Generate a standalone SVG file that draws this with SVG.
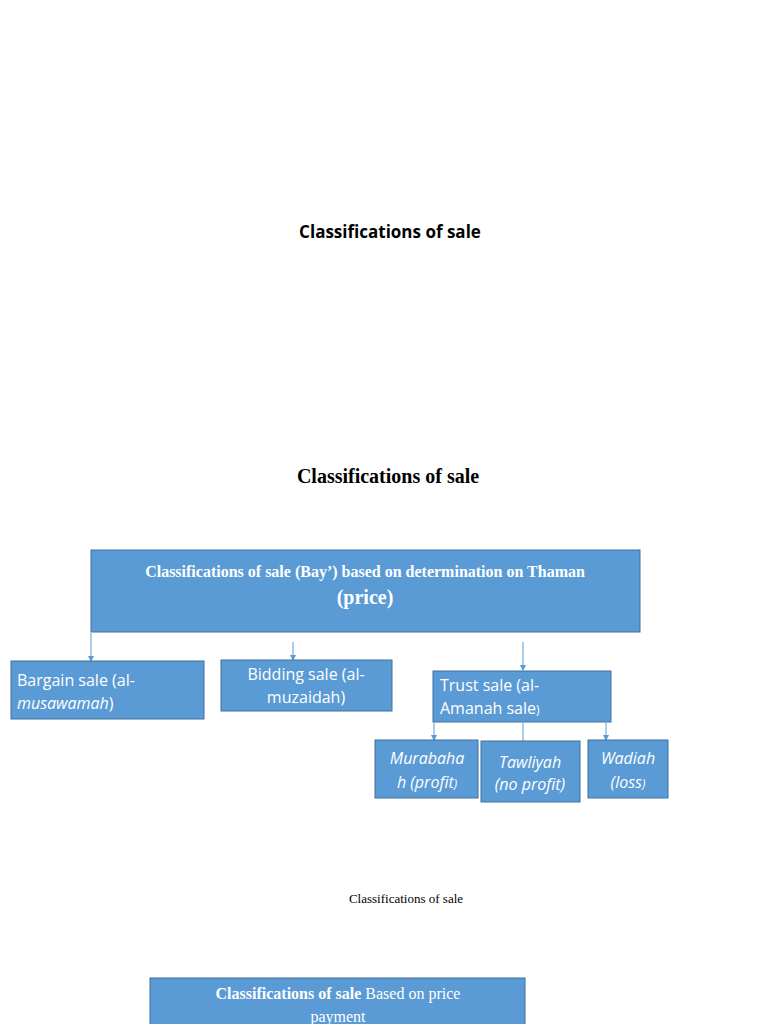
<svg xmlns="http://www.w3.org/2000/svg" width="768" height="1024" viewBox="0 0 768 1024">
<defs>
<style>
.box{fill:#5b9bd5;stroke:#41719c;stroke-width:1}
.t{font-family:"Open Sans","Liberation Sans",sans-serif;font-size:16px;fill:#fff;text-anchor:middle}
.tl{font-family:"Open Sans","Liberation Sans",sans-serif;font-size:16px;fill:#fff}
.s{font-family:"Liberation Serif",serif;font-weight:bold;fill:#fff;text-anchor:middle}
.c{stroke:#5b9bd5;stroke-width:1;fill:none;marker-end:url(#a)}
</style>
<marker id="a" markerWidth="6" markerHeight="6" refX="5" refY="3" orient="auto" markerUnits="userSpaceOnUse"><path d="M0,0L6,3L0,6z" fill="#5b9bd5"/></marker>
</defs>
<rect width="768" height="1024" fill="#fff"/>
<text x="390" y="238" font-family="'Open Sans','Liberation Sans',sans-serif" font-weight="bold" font-size="17" text-anchor="middle" fill="#000">Classifications of sale</text>
<text x="388" y="483" font-family="'Liberation Serif',serif" font-weight="bold" font-size="20" text-anchor="middle" fill="#000">Classifications of sale</text>
<text x="406" y="903" font-family="'Liberation Serif',serif" font-size="13" text-anchor="middle" fill="#000">Classifications of sale</text>
<g id="connectors">
<line class="c" x1="91" y1="633" x2="91" y2="661"/>
<line class="c" x1="293" y1="642" x2="293" y2="660"/>
<line class="c" x1="523" y1="642" x2="523" y2="670"/>
<line class="c" x1="434" y1="723" x2="434" y2="740"/>
<line x1="523" y1="723" x2="523" y2="741" stroke="#5b9bd5"/>
<line class="c" x1="606" y1="723" x2="606" y2="740"/>
</g>
<g id="root"><rect class="box" x="91" y="550" width="549" height="82"/>
<text class="s" x="365" y="577" font-size="16">Classifications of sale  (Bay’) based on determination on Thaman</text>
<text class="s" x="365" y="604" font-size="20">(price)</text></g>
<g id="bargain"><rect class="box" x="11" y="661" width="193" height="58"/>
<text class="tl" x="17" y="686">Bargain sale  (al-</text>
<text class="tl" x="17" y="709"><tspan font-style="italic">musawamah</tspan>)</text></g>
<g id="bidding"><rect class="box" x="221" y="660" width="171" height="51"/>
<text class="t" x="306" y="680">Bidding sale (al-</text>
<text class="t" x="306" y="703">muzaidah)</text></g>
<g id="trust"><rect class="box" x="433" y="671" width="178" height="51"/>
<text class="tl" x="440" y="691">Trust sale (al-</text>
<text class="tl" x="440" y="714">Amanah sale<tspan font-size="12">)</tspan></text></g>
<g id="murabahah"><rect class="box" x="375" y="740" width="103" height="58"/>
<text class="t" x="427" y="764" font-style="italic">Murabaha</text>
<text class="t" x="427" y="788" font-style="italic">h (profit<tspan font-size="12">)</tspan></text></g>
<g id="tawliyah"><rect class="box" x="481" y="741" width="99" height="61"/>
<text class="t" x="530" y="768" font-style="italic">Tawliyah</text>
<text class="t" x="530" y="790" font-style="italic">(no profit)</text></g>
<g id="wadiah"><rect class="box" x="588" y="740" width="80" height="58"/>
<text class="t" x="628" y="764" font-style="italic">Wadiah</text>
<text class="t" x="628" y="788" font-style="italic">(loss<tspan font-size="12">)</tspan></text></g>
<g id="payment"><rect class="box" x="150" y="978" width="375" height="60"/>
<text class="s" x="338" y="999" font-size="16">Classifications of sale <tspan font-weight="normal">Based on price</tspan></text>
<text x="338" y="1022" font-family="'Liberation Serif',serif" font-size="16" fill="#fff" text-anchor="middle">payment</text></g>
</svg>
